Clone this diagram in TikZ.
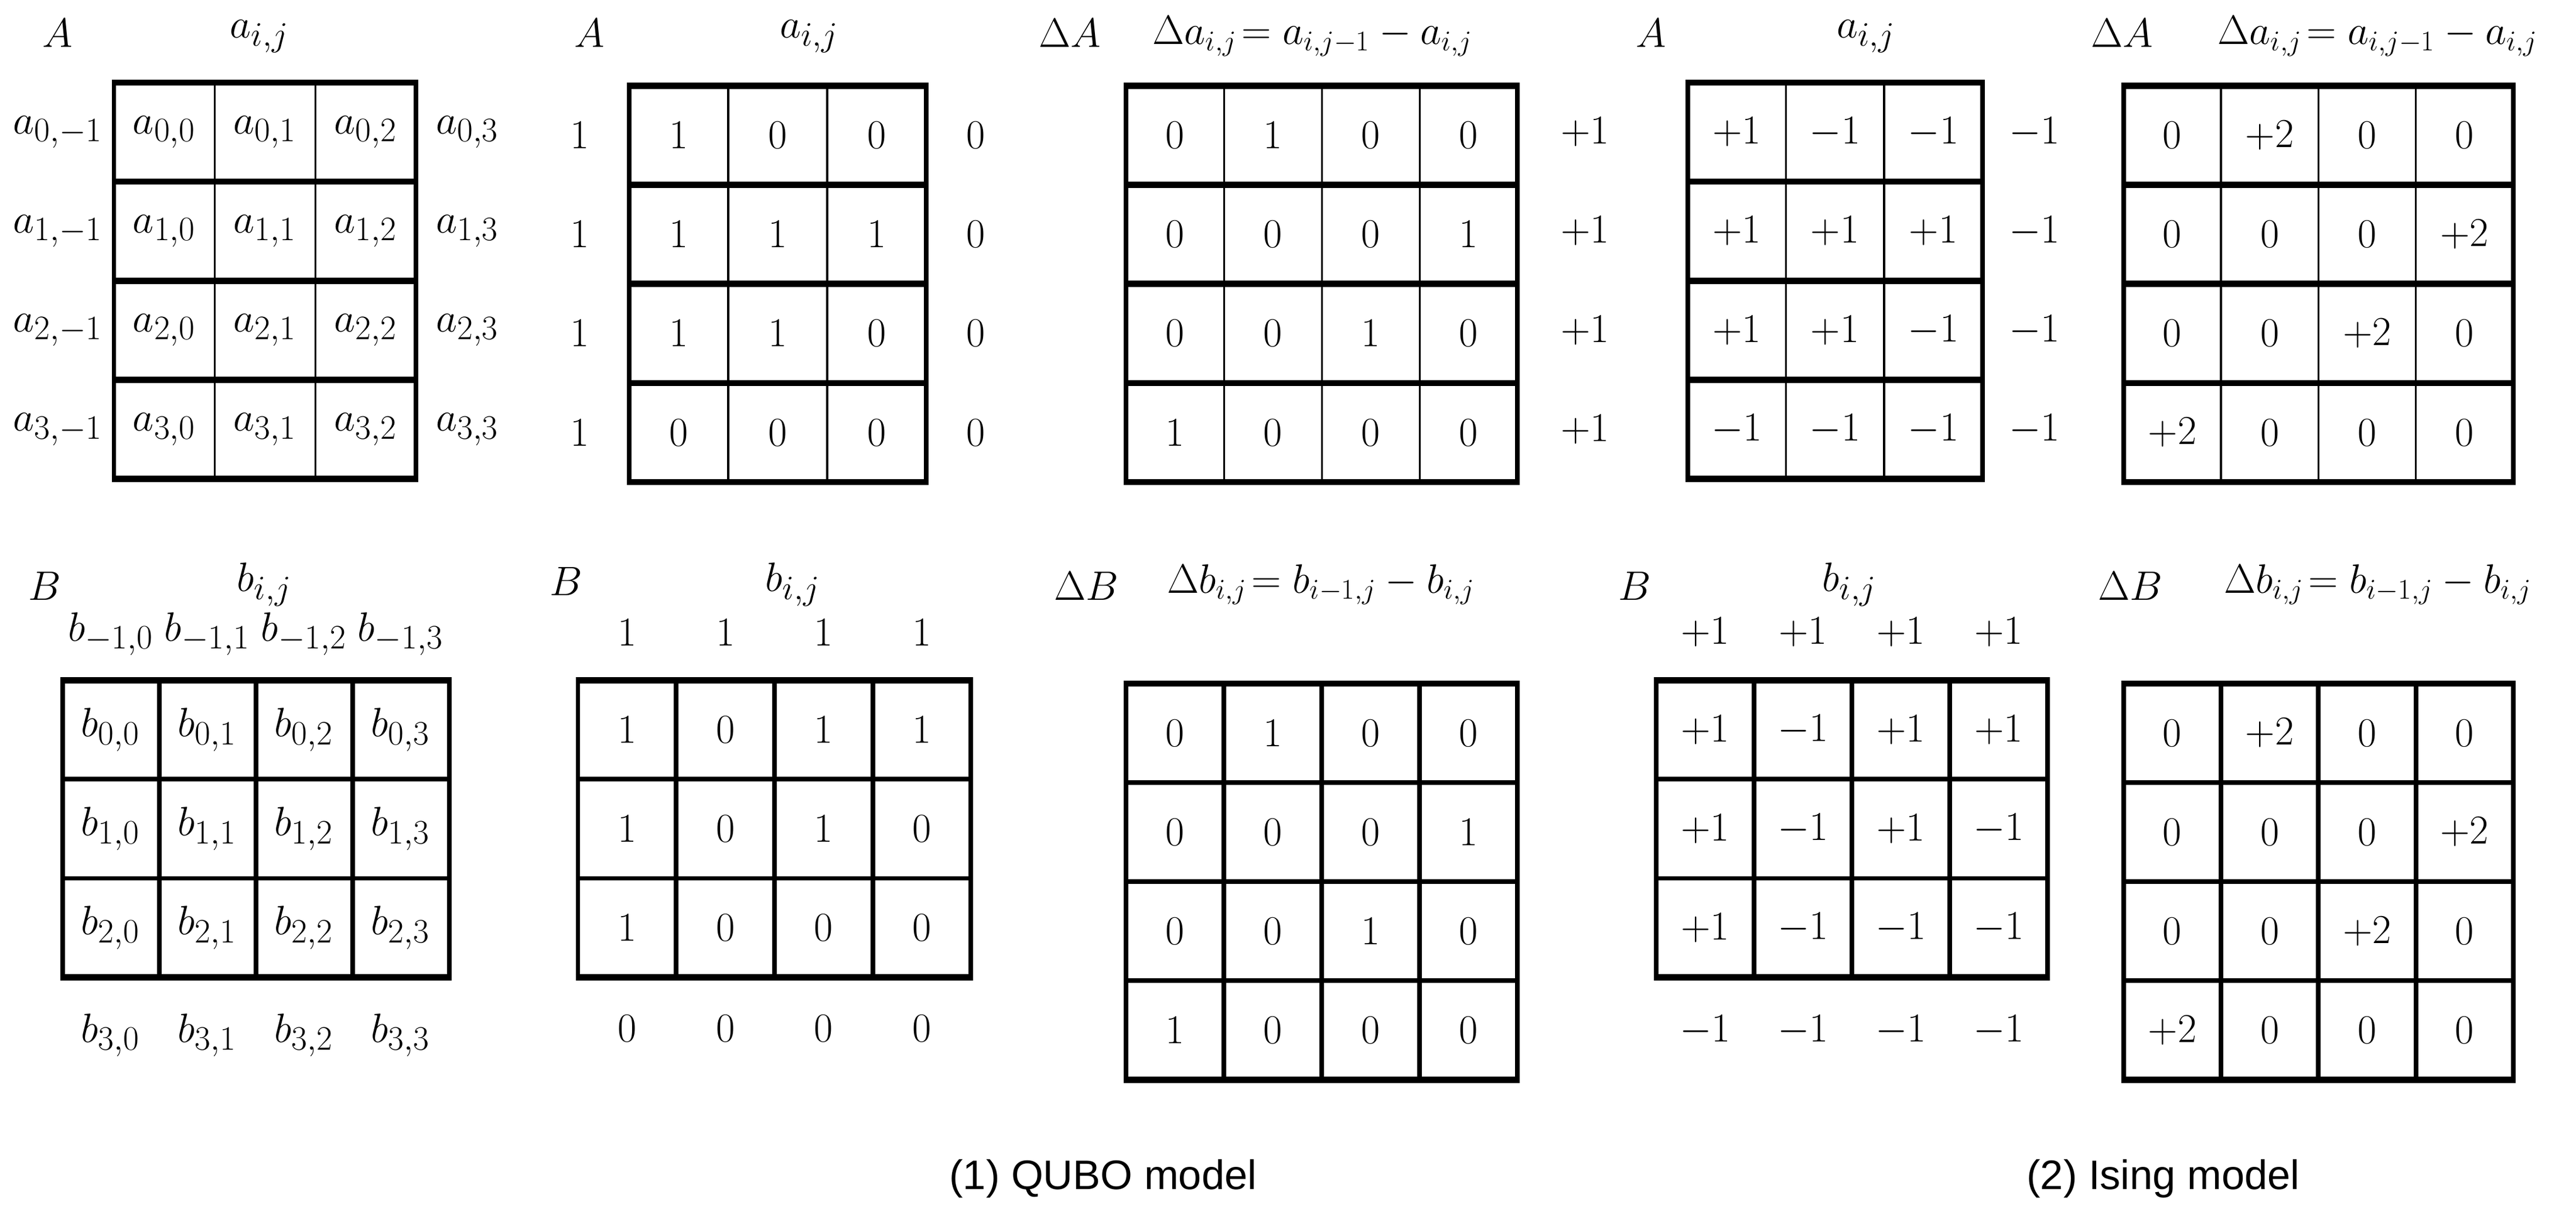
\documentclass[tikz,border=0pt]{standalone}
\usepackage{fontspec}
\setsansfont{Liberation Sans}
\begin{document}
\begin{tikzpicture}[x=1pt,y=-1pt,
  lbl/.style={font=\fontsize{31}{36}\selectfont, inner sep=0pt},
  big/.style={font=\fontsize{35}{40}\selectfont, inner sep=0pt},
  frm/.style={font=\fontsize{25}{30}\selectfont, inner sep=0pt},
  captxt/.style={font=\sffamily\fontsize{25}{30}\selectfont, inner sep=0pt},
  thk/.style={line width=3.8pt}, med/.style={line width=2.8pt}, thn/.style={line width=1.2pt}]
\useasboundingbox (0,0) rectangle (1560,732);
\newcommand\mygridtop[6]{%
  \foreach \r in {0,...,#4} \draw[thk] (#1-1.4,#2+#6*\r) -- ++(#3*#5+2.8,0);
  \foreach \c in {1,...,\numexpr#3-1\relax} \draw[thn] (#1+#5*\c,#2) -- ++(0,#4*#6);
  \draw[med] (#1,#2) -- ++(0,#4*#6); \draw[med] (#1+#3*#5,#2) -- ++(0,#4*#6);}
\newcommand\mygridbot[6]{%
  \foreach \r in {1,...,\numexpr#4-1\relax} \draw[med] (#1,#2+#6*\r) -- ++(#3*#5,0);
  \foreach \c in {0,...,#3} \draw[med] (#1+#5*\c,#2) -- ++(0,#4*#6);
  \draw[thk] (#1-1.4,#2) -- ++(#3*#5+2.8,0); \draw[thk] (#1-1.4,#2+#4*#6) -- ++(#3*#5+2.8,0);}
\newcommand\mycells[6]{%
  \foreach \rw [count=\r from 0] in {#6}
    \foreach \v [count=\c from 0] in \rw
      \node[lbl] (#1-\r-\c) at (#2+#4*\c+#4/2,#3+#5*\r+#5/2) {$\v$};}
% ===== Panel 1 : A symbolic
\node[big] (p1t) at (35,20) {$A$};
\node[lbl] (p1h) at (157,22) {$a_{i,j}$};
\mygridtop{69}{50}{3}{4}{61}{60}
\foreach \r in {0,...,3}{
  \node[lbl] (p1l\r) at (35,80+60*\r) {$a_{\r,-1}$};
  \node[lbl] (p1r\r) at (283,80+60*\r) {$a_{\r,3}$};
  \foreach \c in {0,1,2} \node[lbl] (p1c\r\c) at (99.5+61*\c,80+60*\r) {$a_{\r,\c}$};}
% ===== Panel 2 : A QUBO
\node[big] (p2t) at (357,20) {$A$};
\node[lbl] (p2h) at (490,22) {$a_{i,j}$};
\mygridtop{381}{52}{3}{4}{60}{60}
\mycells{p2}{381}{52}{60}{60}{{1,0,0},{1,1,1},{1,1,0},{0,0,0}}
\foreach \r in {0,...,3}{
  \node[lbl] (p2l\r) at (351,82+60*\r) {$1$};
  \node[lbl] (p2r\r) at (591,82+60*\r) {$0$};}
% ===== Panel 3 : dA QUBO
\node[big] (p3t) at (648,20) {$\Delta A$};
\node[frm] (p3h) at (795,22) {$\Delta a_{i,j}\!= a_{i,j-1}-a_{i,j}$};
\mygridtop{682}{52}{4}{4}{59.25}{60}
\mycells{p3}{682}{52}{59.25}{60}{{0,1,0,0},{0,0,0,1},{0,0,1,0},{1,0,0,0}}
% ===== Panel 4 : A Ising
\node[big] (p4t) at (1000,20) {$A$};
\node[lbl] (p4h) at (1130,22) {$a_{i,j}$};
\mygridtop{1022}{50}{3}{4}{59.5}{60}
\mycells{p4}{1022}{50}{59.5}{60}{{+1,-1,-1},{+1,+1,+1},{+1,+1,-1},{-1,-1,-1}}
\foreach \r in {0,...,3}{
  \node[lbl] (p4l\r) at (960,80+60*\r) {$+1$};
  \node[lbl] (p4r\r) at (1232,80+60*\r) {$-1$};}
% ===== Panel 5 : dA Ising
\node[big] (p5t) at (1285,20) {$\Delta A$};
\node[frm] (p5h) at (1440,22) {$\Delta a_{i,j}\!= a_{i,j-1}-a_{i,j}$};
\mygridtop{1286}{52}{4}{4}{59}{60}
\mycells{p5}{1286}{52}{59}{60}{{0,+2,0,0},{0,0,0,+2},{0,0,+2,0},{+2,0,0,0}}
% ===== Panel 6 : B symbolic
\node[big] (q1t) at (27,355) {$B$};
\node[lbl] (q1h) at (160,354) {$b_{i,j}$};
\mygridbot{38}{412}{4}{3}{58.5}{60}
\foreach \c in {0,...,3}{
  \node[lbl] (q1u\c) at (67+58.5*\c,384) {$b_{-1,\c}$};
  \node[lbl] (q1d\c) at (67+58.5*\c,627) {$b_{3,\c}$};
  \foreach \r in {0,1,2} \node[lbl] (q1c\r\c) at (67+58.5*\c,442+60*\r) {$b_{\r,\c}$};}
% ===== Panel 7 : B QUBO
\node[big] (q2t) at (343,352) {$B$};
\node[lbl] (q2h) at (480,354) {$b_{i,j}$};
\mygridbot{350}{412}{4}{3}{59.5}{60}
\mycells{q2}{350}{412}{59.5}{60}{{1,0,1,1},{1,0,1,0},{1,0,0,0}}
\foreach \c in {0,...,3}{
  \node[lbl] (q2u\c) at (379.75+59.5*\c,383) {$1$};
  \node[lbl] (q2d\c) at (379.75+59.5*\c,623) {$0$};}
% ===== Panel 8 : dB QUBO
\node[big] (q3t) at (658,355) {$\Delta B$};
\node[frm] (q3h) at (800,354) {$\Delta b_{i,j}\!= b_{i-1,j}-b_{i,j}$};
\mygridbot{682}{414}{4}{4}{59.25}{60}
\mycells{q3}{682}{414}{59.25}{60}{{0,1,0,0},{0,0,0,1},{0,0,1,0},{1,0,0,0}}
% ===== Panel 9 : B Ising
\node[big] (q4t) at (990,355) {$B$};
\node[lbl] (q4h) at (1120,354) {$b_{i,j}$};
\mygridbot{1003}{412}{4}{3}{59.25}{60}
\mycells{q4}{1003}{412}{59.25}{60}{{+1,-1,+1,+1},{+1,-1,+1,-1},{+1,-1,-1,-1}}
\foreach \c in {0,...,3}{
  \node[lbl] (q4u\c) at (1032.6+59.25*\c,383) {$+1$};
  \node[lbl] (q4d\c) at (1032.6+59.25*\c,624) {$-1$};}
% ===== Panel 10 : dB Ising
\node[big] (q5t) at (1290,355) {$\Delta B$};
\node[frm] (q5h) at (1440,354) {$\Delta b_{i,j}\!= b_{i-1,j}-b_{i,j}$};
\mygridbot{1286}{414}{4}{4}{59}{60}
\mycells{q5}{1286}{414}{59}{60}{{0,+2,0,0},{0,0,0,+2},{0,0,+2,0},{+2,0,0,0}}
% captions
\node[captxt] (c1) at (668,714) {(1) QUBO model};
\node[captxt] (c2) at (1310,714) {(2) Ising model};
\end{tikzpicture}
\end{document}
